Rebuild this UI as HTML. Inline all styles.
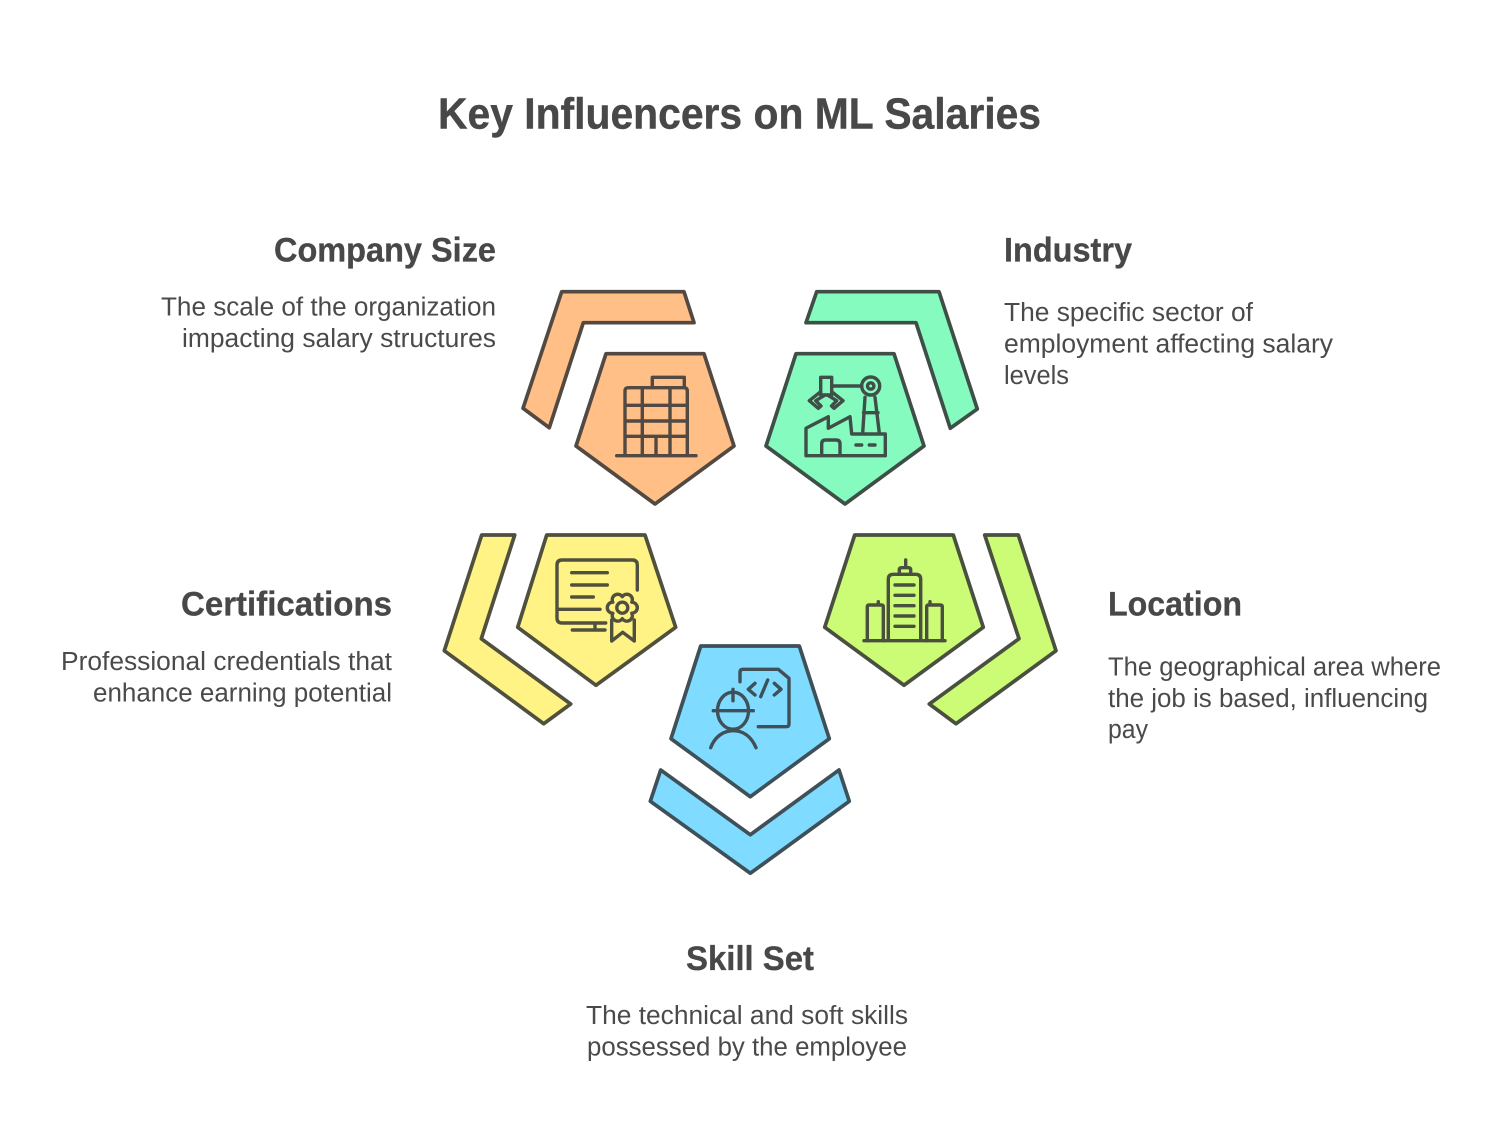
<!DOCTYPE html>
<html lang="en">
<head>
<meta charset="utf-8">
<title>Key Influencers on ML Salaries</title>
<style>
html,body{margin:0;padding:0;background:#fff;width:1500px;height:1146px;overflow:hidden}
svg{display:block}
text{font-family:"Liberation Sans",sans-serif}
.t{font-size:43.5px;font-weight:700;fill:#484848;stroke:#484848;stroke-width:.4px}
.h{font-size:34px;font-weight:700;fill:#484848;stroke:#484848;stroke-width:.3px}
.b{font-size:25.5px;fill:#4a4a4a}
.s{stroke-width:3.7;stroke-linejoin:round;stroke-linecap:round}
.i{fill:none;stroke-width:3.4;stroke-linejoin:round;stroke-linecap:round}
</style>
</head>
<body>
<svg width="1500" height="1146" viewBox="0 0 1500 1146" xmlns="http://www.w3.org/2000/svg">
<rect width="1500" height="1146" fill="#fff"/>

<text class="t" x="438" y="128.5" textLength="603" lengthAdjust="spacingAndGlyphs">Key Influencers on ML Salaries</text>

<!-- Orange -->
<g class="s" fill="#FFBF87" stroke="#524A42">
<polygon points="561.7,291.7 684,291.7 694,322.7 583.3,322.7 549.3,427.7 523,408.3"/>
<polygon points="606,353.7 704,353.7 734,446 655,504 576,446"/>
</g>
<g class="i" stroke="#524A42">
<path d="M616.7 455.7H696M625 455.7V391q0-3.3 3.3-3.3H684q3.3 0 3.3 3.3V455.7M652.3 387.7V377.3H684.3V387.7M642.3 387.7V455.7M670 387.7V455.7M625 405.3H687.3M625 421H687.3M625 436.3H687.3M656 436.3V455.7"/>
</g>

<!-- Green -->
<g class="s" fill="#85FBC0" stroke="#3F4F48">
<polygon points="816.7,291.7 939,291.7 977.3,409 950.3,428.3 916,322.7 806,322.7"/>
<polygon points="796,353.7 894,353.7 924,446 845,504 766,446"/>
</g>
<g class="i" stroke="#3F4F48">
<path d="M806 455.7V428.3L828.3 416.7V428.3L850 416.7L851.7 434H885.3V455.7ZM821.7 455.7V444q0-4 4-4H836q4 0 4 4V455.7M856 445H861.7M869.3 445H875"/>
<path d="M862.7 433L865 397.3M879.3 433L875 397.3M863.5 412.7H878M831.7 386H861.7"/>
<circle cx="870.7" cy="386" r="9"/>
<circle cx="870.7" cy="386" r="3.2"/>
<path d="M820.7 395V377.3H831.7V395Z"/>
<path d="M820.7 391.7L809.3 400.7L818.3 408.3L821 406L815.7 400.7L825 395M831.7 391.7L843 400.7L834 408.3L831.5 406L836.7 400.7L827.4 395"/>
</g>

<!-- Yellow -->
<g class="s" fill="#FFF385" stroke="#50503F">
<polygon points="481.7,535 514.7,535 481.3,638.7 570.7,704 543.7,723.7 444.3,650.7"/>
<polygon points="546.7,535 645,535 675.7,627.3 596,685.3 517.7,627.3"/>
</g>
<g class="i" stroke="#50503F">
<path d="M637.3 590V565q0-5-5-5H562q-5 0-5 5V618q0 5 5 5H605.7M557.3 609.3H600M571.7 572.7H607.3M571.7 585H607.3M571.7 597H593.3M595 623V630M572.3 630H605"/>
<path d="M622.3 596.7A5.5 5.5 0 0 1 631.8 602.2A5.5 5.5 0 0 1 631.8 613.2A5.5 5.5 0 0 1 622.3 618.7A5.5 5.5 0 0 1 612.8 613.2A5.5 5.5 0 0 1 612.8 602.2A5.5 5.5 0 0 1 622.3 596.7Z"/>
<circle cx="622.3" cy="607.7" r="5.5"/>
<path d="M611.7 620V641L622.7 632.3L634.3 641V620"/>
</g>

<!-- Lime -->
<g class="s" fill="#CCFB75" stroke="#4A5040">
<polygon points="984.7,535 1018.3,535 1056,650.7 956,723.7 929.3,704 1019,638.7"/>
<polygon points="854.7,535 953.3,535 983.3,627.3 904,685.3 824.7,627.3"/>
</g>
<g class="i" stroke="#4A5040">
<path d="M864 640.7H945M888.3 640.7V579.3q0-5 5-5H915.7q5 0 5 5V640.7M895 585H914M895 595.3H914M895 605.7H914M895 616H914M895 626.3H914M899.3 574.3V570q0-2.3 2.3-2.3H908.4q2.3 0 2.3 2.3V574.3M905.7 560V567.7"/>
<path d="M867.3 640.7V607q0-2 2-2H881.3q2 0 2 2V640.7M878.3 601.7V605M926.7 640.7V607q0-2 2-2H940.3q2 0 2 2V640.7M930 601.7V605"/>
</g>

<!-- Blue -->
<g class="s" fill="#7FDBFF" stroke="#3F5058">
<polygon points="660.7,770 750.3,834.7 839,770 849.3,801.3 750.3,873.3 650.3,801.3"/>
<polygon points="700.7,646 799.3,646 829.3,738.7 750.3,796.7 671,738.7"/>
</g>
<g class="i" stroke="#3F5058">
<path d="M740 681.7V672.3q0-3 3-3H778.3L789 678.3V723.7q0 3-3 3H758.3"/>
<path d="M755 683.3L748.3 689.3L755 695M774.3 683.3L781 689.3L774.3 695M767.7 680L760.7 696.7"/>
<ellipse cx="733" cy="710.7" rx="15.5" ry="18.5"/>
<path d="M713.3 710.7H753.3M733 689.3V700.7"/>
<path d="M710.7 747.7C715 736 724 730.7 733.3 730.7S751 736 756 747.7"/>
</g>

<!-- Labels -->
<text class="h" x="274" y="261.5" textLength="222" lengthAdjust="spacingAndGlyphs">Company Size</text>
<text class="b" x="161" y="315.5" textLength="335" lengthAdjust="spacingAndGlyphs">The scale of the organization</text>
<text class="b" x="182" y="347" textLength="314" lengthAdjust="spacingAndGlyphs">impacting salary structures</text>

<text class="h" x="1004" y="261.5" textLength="128" lengthAdjust="spacingAndGlyphs">Industry</text>
<text class="b" x="1004" y="321" textLength="249" lengthAdjust="spacingAndGlyphs">The specific sector of</text>
<text class="b" x="1004" y="352.5" textLength="329" lengthAdjust="spacingAndGlyphs">employment affecting salary</text>
<text class="b" x="1004" y="384" textLength="65" lengthAdjust="spacingAndGlyphs">levels</text>

<text class="h" x="181" y="615.5" textLength="211" lengthAdjust="spacingAndGlyphs">Certifications</text>
<text class="b" x="61" y="670" textLength="331" lengthAdjust="spacingAndGlyphs">Professional credentials that</text>
<text class="b" x="93" y="701.5" textLength="299" lengthAdjust="spacingAndGlyphs">enhance earning potential</text>

<text class="h" x="1108" y="615.5" textLength="134" lengthAdjust="spacingAndGlyphs">Location</text>
<text class="b" x="1108" y="675.5" textLength="333" lengthAdjust="spacingAndGlyphs">The geographical area where</text>
<text class="b" x="1108" y="707" textLength="320" lengthAdjust="spacingAndGlyphs">the job is based, influencing</text>
<text class="b" x="1108" y="738" textLength="40" lengthAdjust="spacingAndGlyphs">pay</text>

<text class="h" x="686" y="970" textLength="128" lengthAdjust="spacingAndGlyphs">Skill Set</text>
<text class="b" x="586" y="1024" textLength="322" lengthAdjust="spacingAndGlyphs">The technical and soft skills</text>
<text class="b" x="587" y="1055.5" textLength="320" lengthAdjust="spacingAndGlyphs">possessed by the employee</text>
</svg>
</body>
</html>
